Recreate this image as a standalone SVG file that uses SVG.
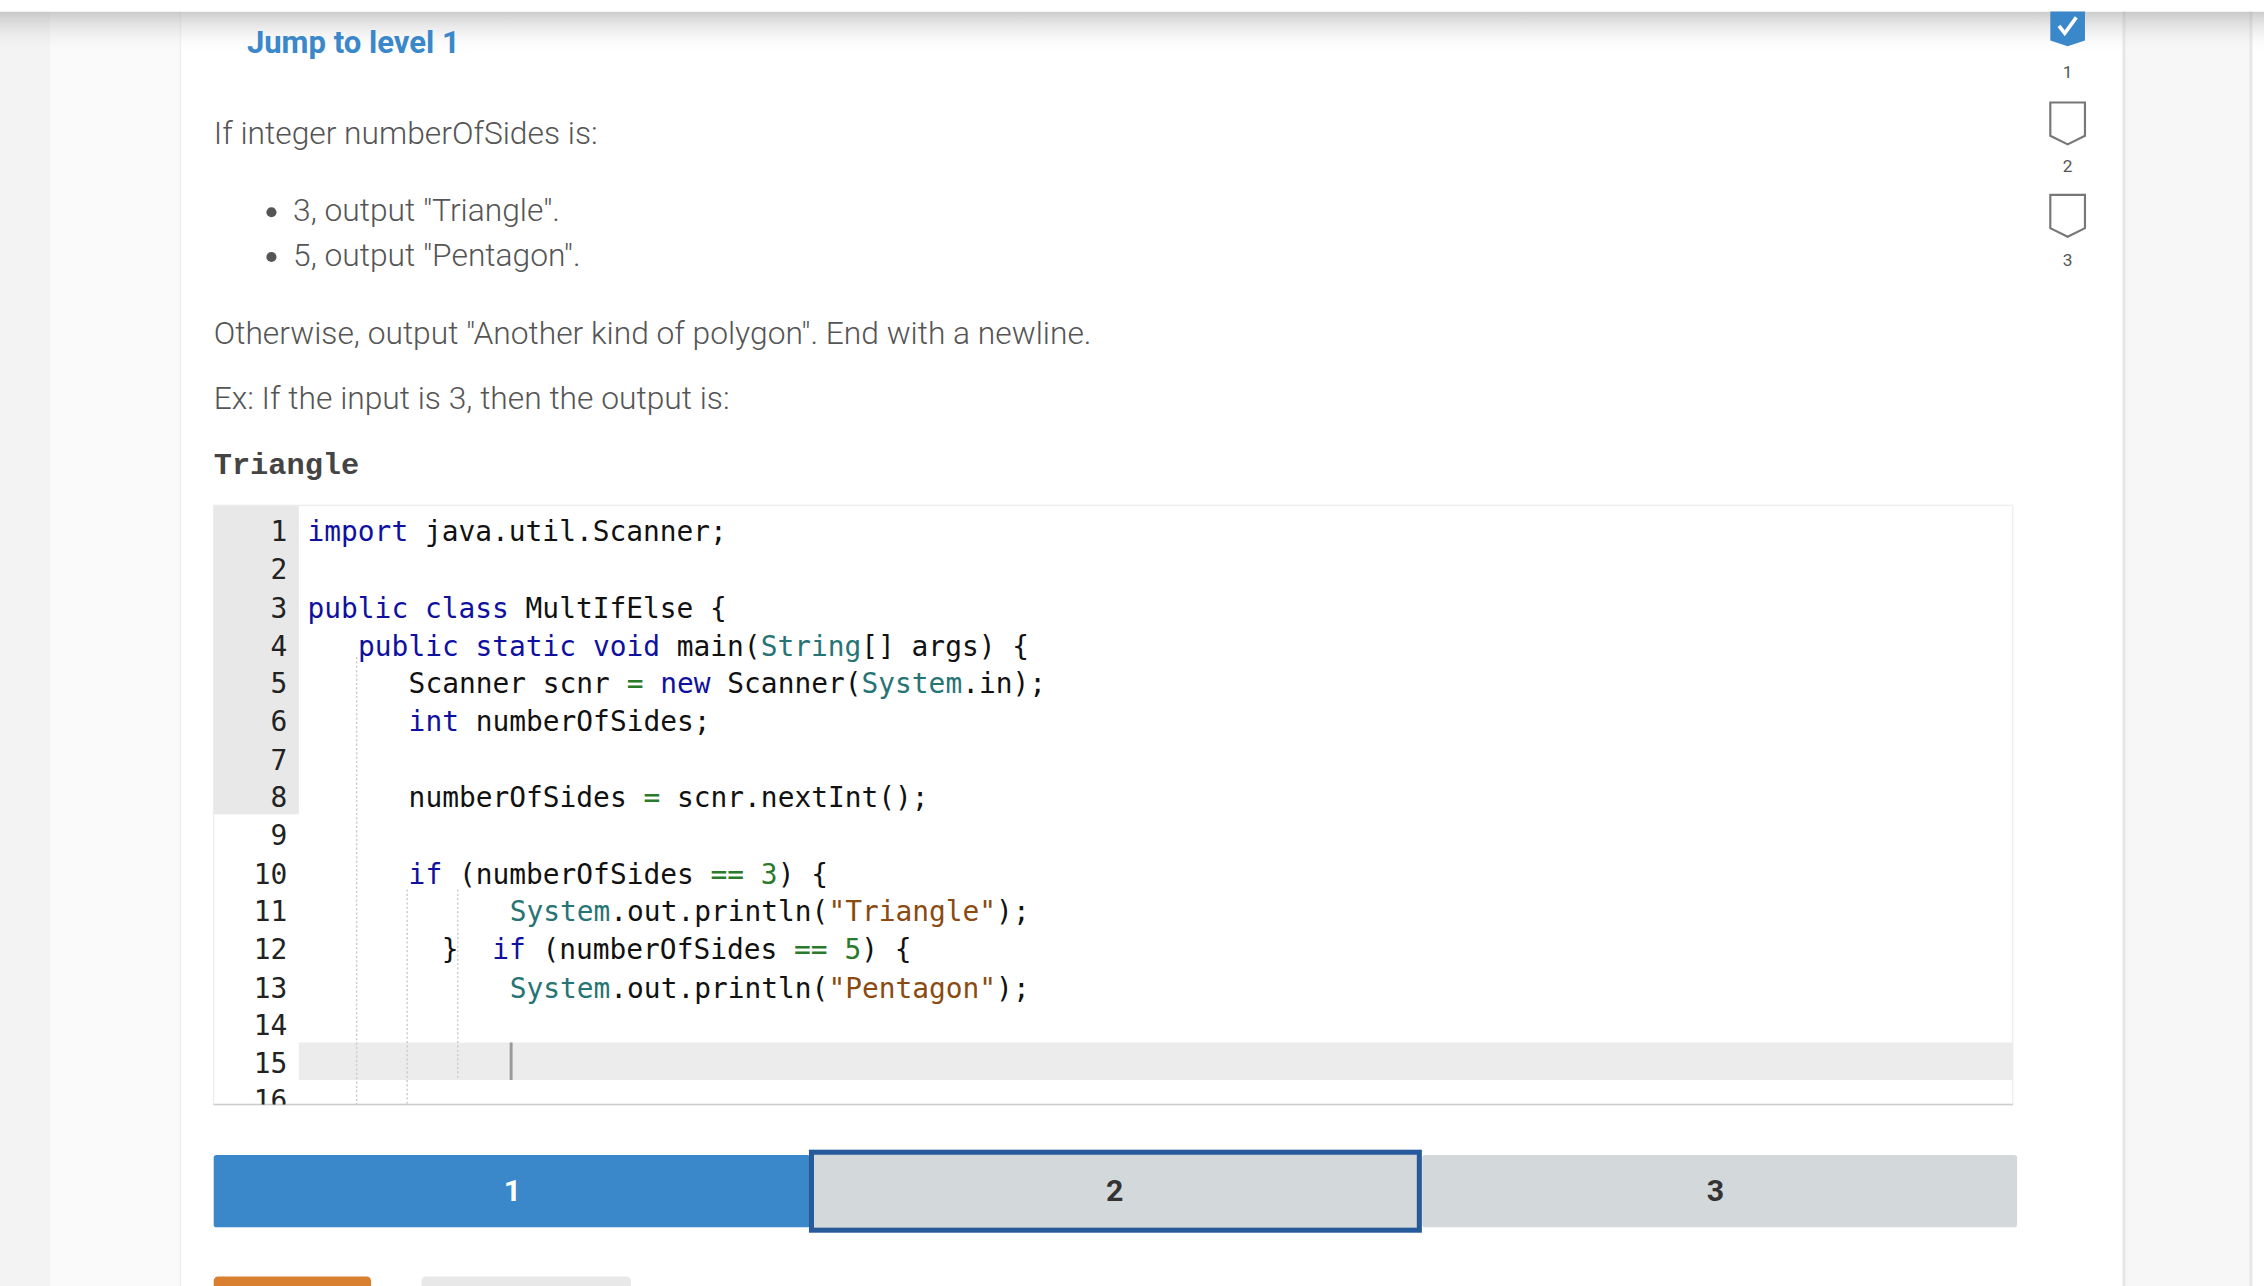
<svg xmlns="http://www.w3.org/2000/svg" width="2264" height="1286" viewBox="0 0 2264 1286">
<style>
.p{font-family:Roboto,"Liberation Sans",sans-serif;font-size:22px;fill:#555;font-weight:300}
.c{font-family:"DejaVu Sans Mono","Liberation Mono",monospace;font-size:19.3px;fill:#111;white-space:pre}
.n{font-family:"DejaVu Sans Mono","Liberation Mono",monospace;font-size:19.3px;fill:#222;text-anchor:end}
.k{fill:#1010a0}.t{fill:#267474}.s{fill:#8a4a10}.g{fill:#2a7a2a}
.lbl{font-family:Roboto,"Liberation Sans",sans-serif;font-size:12px;fill:#555;text-anchor:middle}
.tab{font-family:Roboto,"Liberation Sans",sans-serif;font-size:21px;font-weight:bold;text-anchor:middle}
.guide{stroke:#ccc;stroke-width:1;stroke-dasharray:1.5 1.5}
</style>
<defs><linearGradient id="sh" x1="0" y1="0" x2="0" y2="1"><stop offset="0" stop-color="#999" stop-opacity="0.5"/><stop offset="1" stop-color="#fff" stop-opacity="0"/></linearGradient></defs>
<g transform="scale(1.44388)">
<rect width="1568" height="891" fill="#fff"/>
<rect x="0" y="0" width="35" height="891" fill="#f3f3f3"/>
<rect x="35" y="0" width="90" height="891" fill="#fafafa"/>
<line x1="125" y1="0" x2="125" y2="891" stroke="#eee"/>
<rect x="1471" y="0" width="88" height="891" fill="#f7f7f7"/>
<line x1="1471" y1="0" x2="1471" y2="891" stroke="#e6e6e6" stroke-width="2"/>
<line x1="1559" y1="0" x2="1559" y2="891" stroke="#e6e6e6" stroke-width="2"/>
<rect x="0" y="8" width="1568" height="30" fill="url(#sh)"/>
<rect x="0" y="0" width="1568" height="8" fill="#fff"/>

<g id="header"><text x="171" y="37" font-family="Roboto,'Liberation Sans',sans-serif" font-size="21.5" font-weight="bold" fill="#3a87c9">Jump to level 1</text></g>

<g id="progress">
<path d="M1420 8 H1444 V28 L1432 32 L1420 28 Z" fill="#3a87c9"/>
<path d="M1426 18 L1430 23 L1438 12" fill="none" stroke="#fff" stroke-width="2.5"/>
<text class="lbl" x="1432" y="54">1</text>
<path d="M1420 71 H1444 V94 L1432 100 L1420 94 Z" fill="none" stroke="#777" stroke-width="1.5"/>
<text class="lbl" x="1432" y="119">2</text>
<path d="M1420 135 H1444 V158 L1432 164 L1420 158 Z" fill="none" stroke="#777" stroke-width="1.5"/>
<text class="lbl" x="1432" y="184">3</text>
</g>

<g id="prompt">
<text class="p" x="148" y="100">If integer numberOfSides is:</text>
<circle cx="188" cy="147" r="3.5" fill="#555"/>
<text class="p" x="203" y="153">3, output "Triangle".</text>
<circle cx="188" cy="178" r="3.5" fill="#555"/>
<text class="p" x="203" y="184">5, output "Pentagon".</text>
<text class="p" x="148" y="238">Otherwise, output "Another kind of polygon". End with a newline.</text>
<text class="p" x="148" y="283">Ex: If the input is 3, then the output is:</text>
<text x="148" y="328" font-family="'Liberation Mono',monospace" font-size="21" font-weight="bold" fill="#444">Triangle</text>
</g>

<g id="editor">
<rect x="148" y="350" width="1246" height="415" fill="#fff" stroke="#eee"/>
<rect x="148" y="350" width="59" height="214" fill="#e8e8e8"/>
<rect x="207" y="722" width="1187" height="26" fill="#ececec"/>
<line x1="354" y1="722" x2="354" y2="748" stroke="#999" stroke-width="2"/>
<line class="guide" x1="247" y1="455" x2="247" y2="765"/>
<line class="guide" x1="282" y1="616" x2="282" y2="765"/>
<line class="guide" x1="317" y1="616" x2="317" y2="748"/>
<line x1="148" y1="765" x2="1394" y2="765" stroke="#ccc"/>
<text class="n" x="199" y="375">1</text><text class="n" x="199" y="401">2</text><text class="n" x="199" y="428">3</text><text class="n" x="199" y="454">4</text><text class="n" x="199" y="480">5</text><text class="n" x="199" y="506">6</text><text class="n" x="199" y="533">7</text><text class="n" x="199" y="559">8</text><text class="n" x="199" y="585">9</text><text class="n" x="199" y="612">10</text><text class="n" x="199" y="638">11</text><text class="n" x="199" y="664">12</text><text class="n" x="199" y="691">13</text><text class="n" x="199" y="717">14</text><text class="n" x="199" y="743">15</text>
<svg x="148" y="750" width="60" height="15" overflow="hidden"><text class="n" x="51" y="19">16</text></svg>
<text class="c" x="213" y="375"><tspan class="k">import</tspan> java.util.Scanner;</text>
<text class="c" x="213" y="428"><tspan class="k">public class</tspan> MultIfElse {</text>
<text class="c" x="248" y="454"><tspan class="k">public static void</tspan> main(<tspan class="t">String</tspan>[] args) {</text>
<text class="c" x="283" y="480">Scanner scnr <tspan class="g">=</tspan> <tspan class="k">new</tspan> Scanner(<tspan class="t">System</tspan>.in);</text>
<text class="c" x="283" y="506"><tspan class="k">int</tspan> numberOfSides;</text>
<text class="c" x="283" y="559">numberOfSides <tspan class="g">=</tspan> scnr.nextInt();</text>
<text class="c" x="283" y="612"><tspan class="k">if</tspan> (numberOfSides <tspan class="g">==</tspan> <tspan class="g">3</tspan>) {</text>
<text class="c" x="353" y="638"><tspan class="t">System</tspan>.out.println(<tspan class="s">"Triangle"</tspan>);</text>
<text class="c" x="306" y="664">}  <tspan class="k">if</tspan> (numberOfSides <tspan class="g">==</tspan> <tspan class="g">5</tspan>) {</text>
<text class="c" x="353" y="691"><tspan class="t">System</tspan>.out.println(<tspan class="s">"Pentagon"</tspan>);</text>
</g>

<g id="tabs">
<rect x="148" y="800" width="413" height="50" rx="2" fill="#3a87c9"/>
<text class="tab" x="355" y="832" fill="#fff">1</text>
<rect x="985" y="800" width="412" height="50" rx="2" fill="#d3d8db"/>
<text class="tab" x="1188" y="832" fill="#333">3</text>
<rect x="562" y="798" width="421" height="54" fill="#d3d8db" stroke="#275a9a" stroke-width="3.5"/>
<text class="tab" x="772" y="832" fill="#333">2</text>
</g>
<g id="buttons">
<rect x="148" y="884" width="109" height="12" rx="3" fill="#d97f30"/>
<rect x="292" y="884" width="145" height="12" rx="3" fill="#e8e8e8"/>
</g>
</g>
</svg>
